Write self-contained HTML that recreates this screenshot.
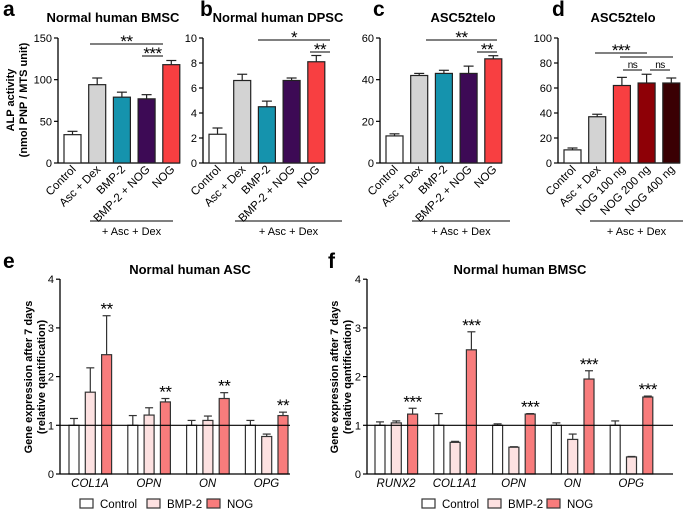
<!DOCTYPE html>
<html><head><meta charset="utf-8"><style>
html,body{margin:0;padding:0;background:#fff}
svg{display:block;font-family:"Liberation Sans",Arial,sans-serif}
</style></head><body>
<svg id="fig" width="685" height="510" viewBox="0 0 685 510"></svg>
<script>
// ---- data ----
const catsA = ["Control","Asc + Dex","BMP-2","BMP-2 + NOG","NOG"];
const valsA = [34,94,79,77,118];
const errA  = [4,8,6,5,5];
const valsB = [2.3,6.6,4.5,6.6,8.1];
const errB  = [0.5,0.5,0.45,0.2,0.5];
const valsC = [13,42,43,43,50];
const errC  = [1,1,1.5,3.5,1.5];
const catsD = ["Control","Asc + Dex","NOG 100 ng","NOG 200 ng","NOG 400 ng"];
const valsD = [10.5,37,62,64,64];
const errD  = [1.5,2,6.5,7,4];
const genesE = ["COL1A","OPN","ON","OPG"];
const ctrlE = [1,1,1,1], ctrlEerr=[0.14,0.2,0.1,0.1];
const bmpE  = [1.68,1.21,1.1,0.77], bmpEerr=[0.5,0.15,0.09,0.05];
const nogE  = [2.45,1.48,1.55,1.2], nogEerr=[0.8,0.07,0.12,0.07];
const genesF = ["RUNX2","COL1A1","OPN","ON","OPG"];
const ctrlF = [1,1,1,1,1], ctrlFerr=[0.07,0.24,0.03,0.05,0.09];
const bmpF  = [1.05,0.65,0.55,0.71,0.35], bmpFerr=[0.04,0.02,0.01,0.11,0.01];
const nogF  = [1.23,2.55,1.23,1.95,1.58], nogFerr=[0.12,0.37,0.01,0.17,0.02];

const NS="http://www.w3.org/2000/svg";
const svg=document.getElementById('fig');
function mk(tag,at,parent){const e=document.createElementNS(NS,tag);for(const k in at)e.setAttribute(k,at[k]);(parent||svg).appendChild(e);return e;}
function txt(x,y,s,at,parent){const e=mk('text',Object.assign({x:x,y:y},at),parent);e.textContent=s;return e;}

function topPanel(o){
  const g=mk('g',{});
  
  
  const y=v=>163-(v/o.max)*125;
  const L=txt(o.lx,16,o.letter,{'font-size':21,'font-weight':'bold'},g);
  
  
  const T=txt(o.tx,22,o.title,{'font-size':13,'font-weight':'bold','text-anchor':'middle'},g);
  
  
  mk('line',{x1:o.ax,y1:38,x2:o.ax,y2:163,stroke:'#000','stroke-width':1.3},g);
  mk('line',{x1:o.ax,y1:163,x2:o.ax+122,y2:163,stroke:'#000','stroke-width':1.3},g);
  o.ticks.forEach(t=>{
    mk('line',{x1:o.ax-4,y1:y(t),x2:o.ax,y2:y(t),stroke:'#000','stroke-width':1.2},g);
    const tl=txt(o.ax-6,y(t)+4,String(t),{'font-size':11,'text-anchor':'end'},g);
    
    
  });
  o.vals.forEach((v,i)=>{
    const x0=o.ax+6+i*24.7, w=17, cx=x0+w/2;
    const top=y(v+o.err[i]);
    mk('line',{x1:cx,y1:y(v),x2:cx,y2:top,stroke:'#222','stroke-width':1.2},g);
    mk('line',{x1:cx-5,y1:top,x2:cx+5,y2:top,stroke:'#222','stroke-width':1.2},g);
    const b=mk('rect',{x:x0,y:y(v),width:w,height:163-y(v),fill:o.colors[i],stroke:'#222','stroke-width':1.2},g);
    
    
    const cl=txt(0,0,o.cats[i],{'font-size':11.5,'text-anchor':'end',transform:'translate('+(cx+4)+',170) rotate(-45)'},g);
    
    
  });
  mk('line',{x1:o.ax+32,y1:221,x2:o.ax+o.brEnd,y2:221,stroke:'#000','stroke-width':1},g);
  const bt=txt(o.ax+32+(o.brEnd-32)/2,235,'+ Asc + Dex',{'font-size':11,'text-anchor':'middle'},g);
  
  
  return g;
}
function sig(x1,x2,yy,s,g,fs){
  mk('line',{x1:x1,y1:yy,x2:x2,y2:yy,stroke:'#000','stroke-width':1},g);
  const t=txt((x1+x2)/2,yy+(fs?-2:3),s,{'font-size':fs||17,'text-anchor':'middle','letter-spacing':'-0.5'},g);
  
  
}
const colsABC=['#ffffff','#d3d3d3','#1593ad','#3d0a55','#f83f41'];
let ga=topPanel({name:'panel-a',letter:'a',lx:3,title:'Normal human BMSC',tx:113,ax:58,max:150,ticks:[0,50,100,150],vals:valsA,err:errA,cats:catsA,colors:colsABC,brEnd:115});
sig(90,163,44,'**',ga); sig(142,163,56,'***',ga);
let yl=txt(0,0,'ALP activity',{'font-size':11,'font-weight':'bold','text-anchor':'middle',transform:'translate(14,100) rotate(-90)'},ga);


let yl2=txt(0,0,'(nmol PNP / MTS unit)',{'font-size':11,'font-weight':'bold','text-anchor':'middle',transform:'translate(27,100) rotate(-90)'},ga);


let gb=topPanel({name:'panel-b',letter:'b',lx:200,title:'Normal human DPSC',tx:278,ax:203,max:10,ticks:[0,2,4,6,8,10],vals:valsB,err:errB,cats:catsA,colors:colsABC,brEnd:139});
sig(258,330,40,'*',gb); sig(310,330,52,'**',gb);
let gc=topPanel({name:'panel-c',letter:'c',lx:373,title:'ASC52telo',tx:463,ax:380,max:60,ticks:[0,20,40,60],vals:valsC,err:errC,cats:catsA,colors:colsABC,brEnd:130});
sig(426,497,40,'**',gc); sig(477,497,52,'**',gc);
let gd=topPanel({name:'panel-d',letter:'d',lx:552,title:'ASC52telo',tx:623,ax:558,max:100,ticks:[0,20,40,60,80,100],vals:valsD,err:errD,cats:catsD,colors:['#ffffff','#d3d3d3','#f83f41','#8e0006','#3a0003'],brEnd:125});
sig(595,647,53,'***',gd);
mk('line',{x1:620,y1:57,x2:673,y2:57,stroke:'#000','stroke-width':1},gd);
sig(623,642,70,'ns',gd,10); sig(650,670,70,'ns',gd,10);

function genePanel(o){
  const g=mk('g',{});
  
  
  const y=v=>474-v*48.7;
  const L=txt(o.lx,268,o.letter,{'font-size':21,'font-weight':'bold'},g);
  
  
  const T=txt(o.tx,274,o.title,{'font-size':13,'font-weight':'bold','text-anchor':'middle'},g);
  
  
  [0,1,2,3,4].forEach(t=>{
    mk('line',{x1:o.ax-4,y1:y(t),x2:o.ax,y2:y(t),stroke:'#000','stroke-width':1.2},g);
    const tl=txt(o.ax-6,y(t)+4,String(t),{'font-size':11,'text-anchor':'end'},g);
    
    
  });
  const series=[[o.c,o.ce,'#ffffff','control'],[o.b,o.be,'#fde1e1','bmp-2'],[o.n,o.ne,'#f87c7c','nog']];
  o.genes.forEach((gn,i)=>{
    series.forEach((s,j)=>{
      const x0=o.gx+i*58.8+j*16.3, w=10, cx=x0+w/2, v=s[0][i], top=y(v+s[1][i]);
      mk('line',{x1:cx,y1:y(v),x2:cx,y2:top,stroke:'#333','stroke-width':1.2},g);
      mk('line',{x1:cx-4,y1:top,x2:cx+4,y2:top,stroke:'#333','stroke-width':1.2},g);
      const b=mk('rect',{x:x0,y:y(v),width:w,height:474-y(v),fill:s[2],stroke:'#333','stroke-width':1.2},g);
      
      
      if(j==2){
        const st=txt(cx,top-1,o.star,{'font-size':17,'text-anchor':'middle','letter-spacing':'-0.5'},g);
        
        
      }
    });
    const cl=txt(o.gx+i*58.8+21,487,gn,{'font-size':11.5,'font-style':'italic','text-anchor':'middle'},g);
    
    
  });
  mk('line',{x1:o.ax,y1:279,x2:o.ax,y2:474,stroke:'#000','stroke-width':1.3},g);
  mk('line',{x1:o.ax,y1:474,x2:o.axEnd,y2:474,stroke:'#000','stroke-width':1.3},g);
  mk('line',{x1:o.ax,y1:y(1),x2:o.axEnd,y2:y(1),stroke:'#000','stroke-width':1.2},g);
  const y1=txt(0,0,'Gene expression after 7 days',{'font-size':11,'font-weight':'bold','text-anchor':'middle',transform:'translate('+o.ylx+',377) rotate(-90)'},g);
  
  
  const y2=txt(0,0,'(relative qantification)',{'font-size':11,'font-weight':'bold','text-anchor':'middle',transform:'translate('+(o.ylx+13)+',377) rotate(-90)'},g);
  
  
  const leg=[['Control','#ffffff'],['BMP-2','#fde1e1'],['NOG','#f87c7c']];
  leg.forEach((l,k)=>{
    const lx=o.legX[k];
    const r=mk('rect',{x:lx,y:499,width:13,height:9,fill:l[1],stroke:'#333','stroke-width':1.2},g);
    
    
    const t=txt(lx+20,508,l[0],{'font-size':11.5},g);
    
    
  });
}
genePanel({name:'panel-e',letter:'e',lx:3,title:'Normal human ASC',tx:190,ax:60,axEnd:290,gx:69,genes:genesE,c:ctrlE,ce:ctrlEerr,b:bmpE,be:bmpEerr,n:nogE,ne:nogEerr,star:'**',ylx:32,legX:[80,147,207]});
genePanel({name:'panel-f',letter:'f',lx:328,title:'Normal human BMSC',tx:520,ax:367,axEnd:673,gx:375,genes:genesF,c:ctrlF,ce:ctrlFerr,b:bmpF,be:bmpFerr,n:nogF,ne:nogFerr,star:'***',ylx:338,legX:[422,488,547]});
</script>
</body></html>
